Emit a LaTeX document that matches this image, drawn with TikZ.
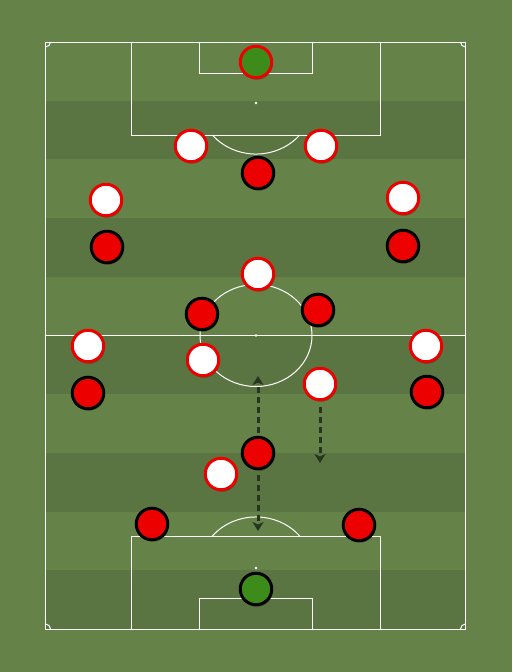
\documentclass[tikz,border=0pt]{standalone}
\usetikzlibrary{arrows.meta,shadows}
\definecolor{grassL}{RGB}{101,131,72}
\definecolor{grassD}{RGB}{90,117,65}
\definecolor{kitred}{RGB}{236,0,0}
\definecolor{gkgreen}{RGB}{61,139,26}
\definecolor{arrowc}{RGB}{38,54,30}
\begin{document}
\begin{tikzpicture}[x=1pt,y=-1pt,
  pline/.style={white,line width=1pt},
  player/.style={circle,minimum size=31.5pt,inner sep=0pt,line width=3pt,
    drop shadow={shadow xshift=1pt,shadow yshift=-2pt,opacity=0.25,fill=black}},
  wp/.style={player,fill=white,draw=kitred},
  rp/.style={player,fill=kitred,draw=black},
  gkt/.style={player,fill=gkgreen,draw=kitred},
  gkb/.style={player,fill=gkgreen,draw=black},
  run/.style={arrowc,line width=3pt,dash pattern=on 6pt off 4pt,
    -{Stealth[length=9pt,width=11pt,inset=2.5pt]}}]
\fill[grassL] (0,0) rectangle (512,672);
\useasboundingbox (0,0) rectangle (512,672);
\foreach \i in {1,3,5,7,9}
  \fill[grassD] (45.5,{42+\i*58.7}) rectangle (465.5,{42+(\i+1)*58.7});
% pitch lines
\draw[pline] (45.5,42) rectangle (465.5,629);
\draw[pline] (45.5,335.5) -- (465.5,335.5);
\draw[pline] (256,335.5) ellipse[x radius=56,y radius=51];
\fill[white] (256,335.5) circle[radius=1.4];
% top
\draw[pline] (131,42) rectangle (380,135);
\draw[pline] (199,42) rectangle (312,73);
\fill[white] (256,103) circle[radius=1.4];
\draw[pline] (212.4,135) arc[start angle=141.2,end angle=38.8,x radius=56,y radius=51];
% bottom
\draw[pline] (131,536) rectangle (380,629);
\draw[pline] (199,598) rectangle (312,629);
\fill[white] (256,568) circle[radius=1.4];
\draw[pline] (212.4,536) arc[start angle=218.8,end angle=321.2,x radius=56,y radius=51];
% corners
\draw[pline] (50.5,42) arc[start angle=0,end angle=90,radius=5];
\draw[pline] (465.5,47) arc[start angle=90,end angle=180,radius=5];
\draw[pline] (45.5,624) arc[start angle=270,end angle=360,radius=5];
\draw[pline] (460.5,629) arc[start angle=180,end angle=270,radius=5];
% players
\node[gkt] (gk1) at (256,62) {};
\node[wp] (w1) at (191,146) {};
\node[wp] (w2) at (321,146) {};
\node[rp] (r1) at (258,173) {};
\node[wp] (w3) at (106,200) {};
\node[wp] (w4) at (403,198) {};
\node[rp] (r2) at (107,247) {};
\node[rp] (r3) at (403,246) {};
\node[wp] (w5) at (258,274) {};
\node[rp] (r4) at (202,314) {};
\node[rp] (r5) at (318,310) {};
\node[wp] (w6) at (88,346) {};
\node[wp] (w7) at (426,346) {};
\node[wp] (w8) at (203,360) {};
\node[wp] (w9) at (320,384) {};
\node[rp] (r6) at (88,393) {};
\node[rp] (r7) at (427,392) {};
\node[rp] (r8) at (258,453) {};
\node[wp] (w10) at (221,474) {};
\node[rp] (r9) at (152,524) {};
\node[rp] (r10) at (359,525) {};
\node[gkb] (gk2) at (256,589) {};
% runs
\coordinate (e1) at (258,376);
\coordinate (e2) at (258,531);
\coordinate (e3) at (320,463);
\draw[run,shorten <=3pt] (r8) -- (e1);
\draw[run,shorten <=5pt] (r8) -- (e2);
\draw[run,shorten <=6pt] (w9) -- (e3);
\end{tikzpicture}
\end{document}
